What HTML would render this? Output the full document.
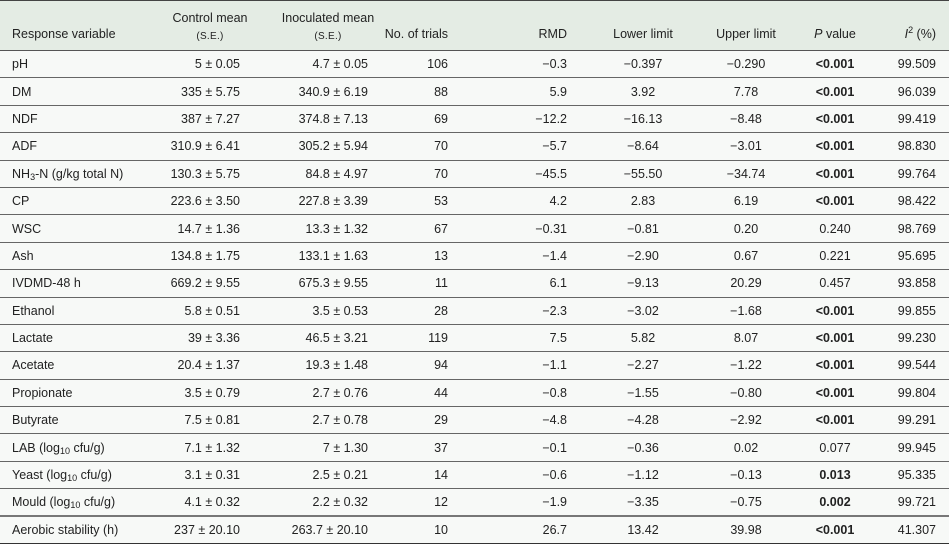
<!DOCTYPE html>
<html><head><meta charset="utf-8"><style>
html,body{margin:0;padding:0;background:#fff;}
body{width:949px;height:545px;overflow:hidden;font-family:"Liberation Sans","DejaVu Sans",sans-serif;font-size:12.5px;color:#222;}
table{position:absolute;left:0;top:0;width:949px;border-collapse:collapse;table-layout:fixed;}
td,th{padding:0;white-space:nowrap;font-weight:normal;}
thead tr{height:50px;background:#e4ece4;}
thead th{border-top:1.5px solid #444;border-bottom:1px solid #555;vertical-align:middle;line-height:17px;}
tbody tr{height:27.4px;background:#f7f9f7;}
tbody td{border-bottom:1px solid #666;}
tbody tr:last-child td{border-bottom:1.5px solid #333;}
tbody tr.sep td{border-top:2px solid #777;}
.c1{text-align:left;padding-left:12px;}
.c2{text-align:right;padding-right:10px;}
.c3{text-align:right;padding-right:10px;}
.c4{text-align:right;padding-right:10px;}
.c5{text-align:right;padding-right:10px;}
.c6,.c7,.c8{text-align:center;}
.c9{text-align:right;padding-right:13px;}
th.h2{text-align:center;padding-left:10px;padding-right:0;padding-top:3px;}
th.h3{text-align:center;padding-left:28px;padding-right:0;padding-top:3px;}
.se{font-size:10px;letter-spacing:0.3px;}
b{font-weight:bold;}
sub{font-size:9px;vertical-align:-2px;line-height:0;}
sup{font-size:9px;vertical-align:5px;line-height:0;}
</style></head><body>
<table>
<colgroup><col style="width:160px"><col style="width:90px"><col style="width:128px"><col style="width:80px"><col style="width:119px"><col style="width:132px"><col style="width:74px"><col style="width:104px"><col style="width:62px"></colgroup>
<thead><tr>
<th class="c1" style="padding-top:17px">Response variable</th>
<th class="h2">Control mean<br><span class="se">(S.E.)</span></th>
<th class="h3">Inoculated mean<br><span class="se">(S.E.)</span></th>
<th class="c4" style="padding-top:17px">No. of trials</th>
<th class="c5" style="padding-top:17px">RMD</th>
<th class="c6" style="padding-top:17px">Lower limit</th>
<th class="c7" style="padding-top:17px">Upper limit</th>
<th class="c8" style="padding-top:17px"><i>P</i> value</th>
<th class="c9" style="padding-top:17px"><i>I</i><sup>2</sup> (%)</th>
</tr></thead>
<tbody>
<tr><td class="c1">pH</td><td class="c2">5 ± 0.05</td><td class="c3">4.7 ± 0.05</td><td class="c4">106</td><td class="c5">−0.3</td><td class="c6">−0.397</td><td class="c7">−0.290</td><td class="c8"><b>&lt;0.001</b></td><td class="c9">99.509</td></tr>
<tr><td class="c1">DM</td><td class="c2">335 ± 5.75</td><td class="c3">340.9 ± 6.19</td><td class="c4">88</td><td class="c5">5.9</td><td class="c6">3.92</td><td class="c7">7.78</td><td class="c8"><b>&lt;0.001</b></td><td class="c9">96.039</td></tr>
<tr><td class="c1">NDF</td><td class="c2">387 ± 7.27</td><td class="c3">374.8 ± 7.13</td><td class="c4">69</td><td class="c5">−12.2</td><td class="c6">−16.13</td><td class="c7">−8.48</td><td class="c8"><b>&lt;0.001</b></td><td class="c9">99.419</td></tr>
<tr><td class="c1">ADF</td><td class="c2">310.9 ± 6.41</td><td class="c3">305.2 ± 5.94</td><td class="c4">70</td><td class="c5">−5.7</td><td class="c6">−8.64</td><td class="c7">−3.01</td><td class="c8"><b>&lt;0.001</b></td><td class="c9">98.830</td></tr>
<tr><td class="c1">NH<sub>3</sub>-N (g/kg total N)</td><td class="c2">130.3 ± 5.75</td><td class="c3">84.8 ± 4.97</td><td class="c4">70</td><td class="c5">−45.5</td><td class="c6">−55.50</td><td class="c7">−34.74</td><td class="c8"><b>&lt;0.001</b></td><td class="c9">99.764</td></tr>
<tr><td class="c1">CP</td><td class="c2">223.6 ± 3.50</td><td class="c3">227.8 ± 3.39</td><td class="c4">53</td><td class="c5">4.2</td><td class="c6">2.83</td><td class="c7">6.19</td><td class="c8"><b>&lt;0.001</b></td><td class="c9">98.422</td></tr>
<tr><td class="c1">WSC</td><td class="c2">14.7 ± 1.36</td><td class="c3">13.3 ± 1.32</td><td class="c4">67</td><td class="c5">−0.31</td><td class="c6">−0.81</td><td class="c7">0.20</td><td class="c8">0.240</td><td class="c9">98.769</td></tr>
<tr><td class="c1">Ash</td><td class="c2">134.8 ± 1.75</td><td class="c3">133.1 ± 1.63</td><td class="c4">13</td><td class="c5">−1.4</td><td class="c6">−2.90</td><td class="c7">0.67</td><td class="c8">0.221</td><td class="c9">95.695</td></tr>
<tr><td class="c1">IVDMD-48 h</td><td class="c2">669.2 ± 9.55</td><td class="c3">675.3 ± 9.55</td><td class="c4">11</td><td class="c5">6.1</td><td class="c6">−9.13</td><td class="c7">20.29</td><td class="c8">0.457</td><td class="c9">93.858</td></tr>
<tr><td class="c1">Ethanol</td><td class="c2">5.8 ± 0.51</td><td class="c3">3.5 ± 0.53</td><td class="c4">28</td><td class="c5">−2.3</td><td class="c6">−3.02</td><td class="c7">−1.68</td><td class="c8"><b>&lt;0.001</b></td><td class="c9">99.855</td></tr>
<tr><td class="c1">Lactate</td><td class="c2">39 ± 3.36</td><td class="c3">46.5 ± 3.21</td><td class="c4">119</td><td class="c5">7.5</td><td class="c6">5.82</td><td class="c7">8.07</td><td class="c8"><b>&lt;0.001</b></td><td class="c9">99.230</td></tr>
<tr><td class="c1">Acetate</td><td class="c2">20.4 ± 1.37</td><td class="c3">19.3 ± 1.48</td><td class="c4">94</td><td class="c5">−1.1</td><td class="c6">−2.27</td><td class="c7">−1.22</td><td class="c8"><b>&lt;0.001</b></td><td class="c9">99.544</td></tr>
<tr><td class="c1">Propionate</td><td class="c2">3.5 ± 0.79</td><td class="c3">2.7 ± 0.76</td><td class="c4">44</td><td class="c5">−0.8</td><td class="c6">−1.55</td><td class="c7">−0.80</td><td class="c8"><b>&lt;0.001</b></td><td class="c9">99.804</td></tr>
<tr><td class="c1">Butyrate</td><td class="c2">7.5 ± 0.81</td><td class="c3">2.7 ± 0.78</td><td class="c4">29</td><td class="c5">−4.8</td><td class="c6">−4.28</td><td class="c7">−2.92</td><td class="c8"><b>&lt;0.001</b></td><td class="c9">99.291</td></tr>
<tr><td class="c1">LAB (log<sub>10</sub> cfu/g)</td><td class="c2">7.1 ± 1.32</td><td class="c3">7 ± 1.30</td><td class="c4">37</td><td class="c5">−0.1</td><td class="c6">−0.36</td><td class="c7">0.02</td><td class="c8">0.077</td><td class="c9">99.945</td></tr>
<tr><td class="c1">Yeast (log<sub>10</sub> cfu/g)</td><td class="c2">3.1 ± 0.31</td><td class="c3">2.5 ± 0.21</td><td class="c4">14</td><td class="c5">−0.6</td><td class="c6">−1.12</td><td class="c7">−0.13</td><td class="c8"><b>0.013</b></td><td class="c9">95.335</td></tr>
<tr><td class="c1">Mould (log<sub>10</sub> cfu/g)</td><td class="c2">4.1 ± 0.32</td><td class="c3">2.2 ± 0.32</td><td class="c4">12</td><td class="c5">−1.9</td><td class="c6">−3.35</td><td class="c7">−0.75</td><td class="c8"><b>0.002</b></td><td class="c9">99.721</td></tr>
<tr class="sep"><td class="c1">Aerobic stability (h)</td><td class="c2">237 ± 20.10</td><td class="c3">263.7 ± 20.10</td><td class="c4">10</td><td class="c5">26.7</td><td class="c6">13.42</td><td class="c7">39.98</td><td class="c8"><b>&lt;0.001</b></td><td class="c9">41.307</td></tr>
</tbody></table>
</body></html>
